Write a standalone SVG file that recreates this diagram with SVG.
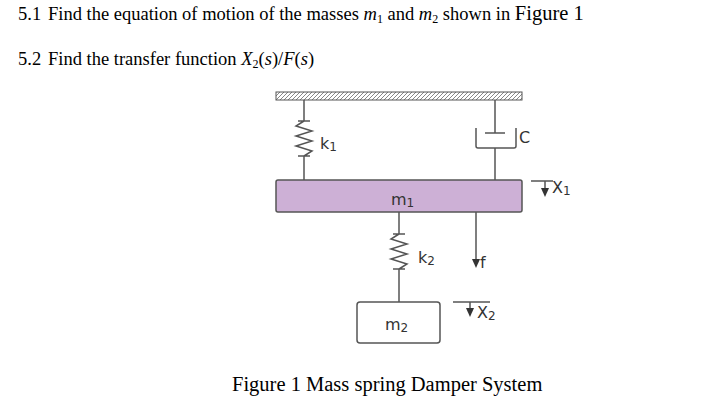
<svg xmlns="http://www.w3.org/2000/svg" width="727" height="408" viewBox="0 0 727 408">
<style>
.s{font-family:"Liberation Serif",serif;fill:#000}
.l{font-family:"DejaVu Sans","Liberation Sans",sans-serif;fill:#333;font-size:16px}
.ln{stroke:#555;stroke-width:1.5;fill:none}
.ah{fill:#333}
</style>
<defs>
<pattern id="h" width="4" height="4" patternUnits="userSpaceOnUse"><rect width="4" height="4" fill="#fff"/><path d="M0 4L4 0" stroke="#888" stroke-width="1"/></pattern>
</defs>
<text class="s" x="18" y="20" font-size="18.5">5.1</text>
<text class="s" x="48" y="20" font-size="18.5">Find the equation of motion of the masses <tspan font-style="italic">m</tspan><tspan font-size="12" dy="3">1</tspan><tspan dy="-3"> and </tspan><tspan font-style="italic">m</tspan><tspan font-size="12" dy="3">2</tspan><tspan dy="-3"> shown in </tspan><tspan font-size="20.5">Figure 1</tspan></text>
<text class="s" x="18" y="65" font-size="18.5">5.2</text>
<text class="s" x="48" y="65" font-size="18.5">Find the transfer function <tspan font-style="italic">X</tspan><tspan font-size="12" dy="3">2</tspan><tspan dy="-3">(</tspan><tspan font-style="italic">s</tspan>)/<tspan font-style="italic">F</tspan>(<tspan font-style="italic">s</tspan>)</text>
<g id="ground"><rect x="276" y="92" width="246" height="8" fill="url(#h)" stroke="#555" stroke-width="1"/></g>
<g id="connectors">
<path class="ln" d="M304 100V121M298 121H310M304 121L296 126 312 131 296 136 312 141 296 146 312 151 304 156M298 156H310M304 156V180"/>
<path class="ln" d="M495 100V133M485 133H505M476 128V146Q476 148 478 148H514Q516 148 516 146V128M495 148V180"/>
<path class="ln" d="M399 212V234M393 234H405M399 234L391 239 407 244 391 249 407 254 391 259 407 264 399 269M393 269H405M399 269V302"/>
<path class="ln" d="M476 212V262"/><path class="ah" d="M472 259H480L476 268Z"/>
<path class="ln" d="M531 181H553M545 181V190"/><path class="ah" d="M541 188H549L545 197Z"/>
<path class="ln" d="M453 302H490M470 302V310"/><path class="ah" d="M466 308H474L470 317Z"/>
</g>
<g id="m1"><rect x="276" y="180" width="246" height="32" rx="2" fill="#cdb0d6" stroke="#555" stroke-width="1.5"/><text class="l" x="391" y="205">m<tspan font-size="12" dy="2">1</tspan></text></g>
<g id="m2"><rect x="357" y="302" width="83" height="41" rx="3" fill="#fff" stroke="#555" stroke-width="1.5"/><text class="l" x="385" y="330">m<tspan font-size="12" dy="2">2</tspan></text></g>
<g id="labels">
<text class="l" x="320" y="149">k<tspan font-size="12" dy="2">1</tspan></text>
<text class="l" x="519" y="143">C</text>
<text class="l" x="418" y="263">k<tspan font-size="12" dy="2">2</tspan></text>
<text class="l" x="480" y="268">f</text>
<text class="l" x="552" y="193">X<tspan font-size="12" dy="2">1</tspan></text>
<text class="l" x="477" y="318">X<tspan font-size="12" dy="2">2</tspan></text>
</g>
<text class="s" x="232" y="391" font-size="20.5">Figure 1 Mass spring Damper System</text>
</svg>
